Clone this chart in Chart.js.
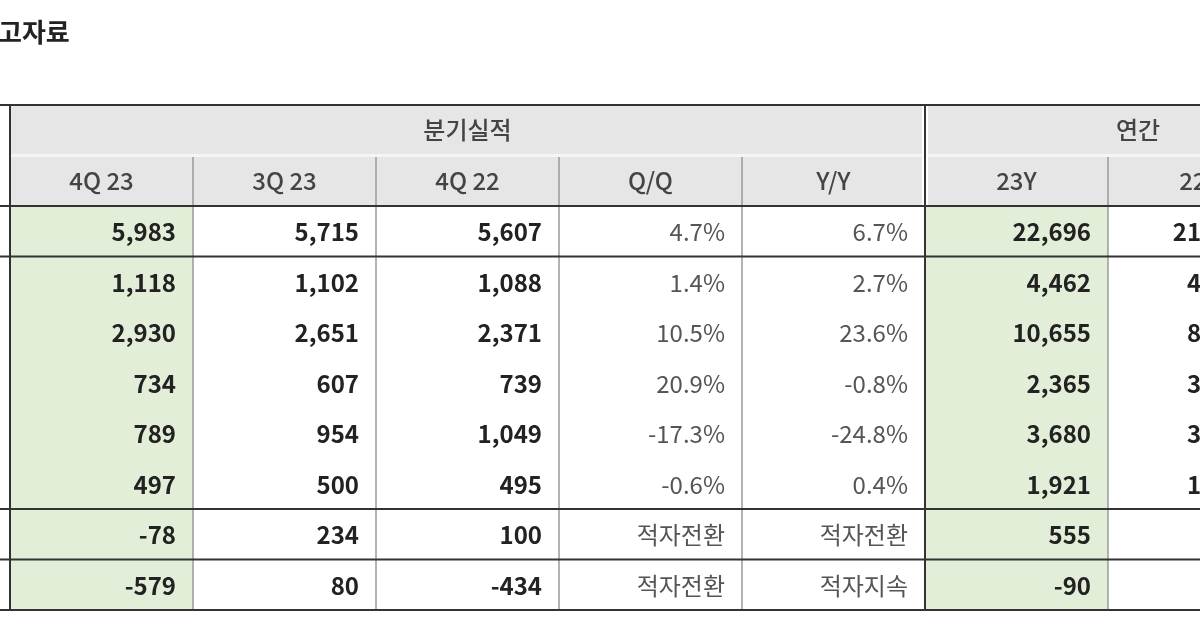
<!DOCTYPE html>
<html><head><meta charset="utf-8">
<script src="https://cdn.jsdelivr.net/npm/chart.js@4"></script>
<style>html,body{margin:0;padding:0;background:#fff;overflow:hidden;width:1200px;height:630px}</style>
</head><body>
<canvas id="c" width="1300" height="630"></canvas>
<script>
const title = "고자료";
const groupHeaders = ["분기실적", "연간"];
const columns = ["4Q 23","3Q 23","4Q 22","Q/Q","Y/Y","23Y","22Y"];
const rowKeys = ["h1","h2","r1","r2","r3","r4","r5","r6","r7","r8"];
const q4_23 = ["5,983","1,118","2,930","734","789","497","-78","-579"];
const q3_23 = ["5,715","1,102","2,651","607","954","500","234","80"];
const q4_22 = ["5,607","1,088","2,371","739","1,049","495","100","-434"];
const qoq = ["4.7%","1.4%","10.5%","20.9%","-17.3%","-0.6%","적자전환","적자전환"];
const yoy = ["6.7%","2.7%","23.6%","-0.8%","-24.8%","0.4%","적자전환","적자지속"];
const y23 = ["22,696","4,462","10,655","2,365","3,680","1,921","555","-90"];
const y22 = ["21,2","4,3","8,6","3,1","3,9","1,9","",""];
const colData = [q4_23,q3_23,q4_22,qoq,yoy,y23,y22];
const boldCols = [true,true,true,false,false,true,true];

const F = '"Noto Sans CJK KR", "Noto Sans", sans-serif';
const tablePlugin = {
  id:'table',
  afterDraw(chart){
    const ctx = chart.ctx, xs = chart.scales.x, ys = chart.scales.y;
    const cw = xs.width/columns.length, rh = ys.height/rowKeys.length;
    const L = i => xs.getPixelForValue(i)-cw/2, R = i => xs.getPixelForValue(i)+cw/2;
    const T = r => ys.getPixelForValue(r)-rh/2, B = r => ys.getPixelForValue(r)+rh/2;
    ctx.save();
    ctx.fillStyle='#222'; ctx.font='bold 26px '+F; ctx.textBaseline='middle'; ctx.textAlign='left';
    ctx.fillText(title, -2, 32);
    ctx.fillStyle='#e6e6e6';
    ctx.fillRect(L(0),T(0),R(6)-L(0),B(1)-T(0));
    ctx.fillStyle='#e2eed8';
    [0,5].forEach(c=>ctx.fillRect(L(c),T(2),cw,B(9)-T(2)));
    ctx.strokeStyle='#9a9a9a'; ctx.lineWidth=1.5;
    for(let c=1;c<columns.length;c++){ if(c===5) continue;
      ctx.beginPath(); ctx.moveTo(L(c),T(1)); ctx.lineTo(L(c),B(9)); ctx.stroke(); }
    ctx.strokeStyle='#f5f5f5'; ctx.lineWidth=3;
    ctx.beginPath(); ctx.moveTo(L(0),T(1)); ctx.lineTo(R(6),T(1)); ctx.stroke();
    ctx.fillStyle='#fff'; ctx.fillRect(L(5)-3,T(0),6,B(1)-T(0));
    ctx.strokeStyle='#333'; ctx.lineWidth=2;
    [L(0),L(5)].forEach(x=>{ctx.beginPath();ctx.moveTo(x,T(0));ctx.lineTo(x,B(9));ctx.stroke();});
    [T(0),T(2),T(3),T(8),T(9),B(9)].forEach(y=>{ctx.beginPath();ctx.moveTo(L(0)-20,y);ctx.lineTo(R(6),y);ctx.stroke();});
    ctx.fillStyle='#444'; ctx.font='500 24px '+F; ctx.textAlign='center';
    ctx.fillText(groupHeaders[0],(L(0)+R(4))/2,ys.getPixelForValue(0));
    ctx.fillText(groupHeaders[1],(L(5)+R(6))/2+30,ys.getPixelForValue(0));
    columns.forEach((c,i)=>ctx.fillText(c,xs.getPixelForValue(i),ys.getPixelForValue(1)));
    ctx.textAlign='right';
    colData.forEach((arr,c)=>{
      arr.forEach((v,r)=>{
        const pct = !boldCols[c];
        ctx.font=(pct?'':'bold ')+'24px '+F;
        ctx.fillStyle=pct?'#555':'#222';
        const xr = c===6 ? L(6)+115 : R(c)-17;
        ctx.fillText(v,xr,ys.getPixelForValue(r+2)+1);
      });
    });
    ctx.restore();
  }
};
new Chart(document.getElementById('c'),{
  type:'bar',
  data:{labels:columns,datasets:[{data:columns.map(()=>null)}]},
  options:{
    responsive:false, animation:false, devicePixelRatio:1,
    layout:{padding:{left:10,right:9,top:105,bottom:20}},
    plugins:{legend:{display:false},tooltip:{enabled:false}},
    scales:{
      x:{type:'category',labels:columns,offset:true,display:false},
      y:{type:'category',labels:rowKeys,offset:true,display:false}
    }
  },
  plugins:[tablePlugin]
});
</script>
</body></html>
